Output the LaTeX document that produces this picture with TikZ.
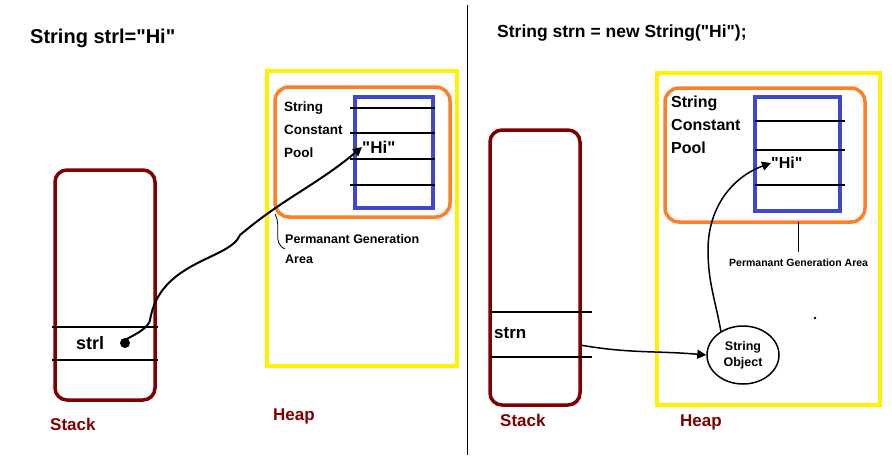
\documentclass[tikz,border=0pt]{standalone}
\usepackage{fontspec}
\setmainfont{Liberation Sans}
\usetikzlibrary{arrows.meta,shapes.geometric}
\definecolor{stackred}{RGB}{128,0,0}
\definecolor{heapyellow}{RGB}{255,242,0}
\definecolor{poolorange}{RGB}{255,127,39}
\definecolor{slotblue}{RGB}{63,72,204}
\newcommand{\q}{\textquotedbl}
\tikzset{
  stackbox/.style={draw=stackred,line width=3.5pt,rounded corners=12pt},
  heapbox/.style={draw=heapyellow,line width=4pt},
  poolbox/.style={draw=poolorange,line width=3.5pt,rounded corners=14pt},
  slotbox/.style={draw=slotblue,line width=3.5pt},
  slot/.style={line width=2pt},
  ref/.style={line width=2pt,-{Triangle[length=9pt,width=9pt]}},
  lbl/.style={font=\bfseries,anchor=west,inner sep=0pt},
  redlbl/.style={lbl,text=stackred},
}
\begin{document}
\begin{tikzpicture}[x=1pt,y=-1pt]
\useasboundingbox (0,0) rectangle (892,463);
\draw[line width=1pt] (467,5) -- (467,455);
% left: literal
\node[lbl,font=\bfseries\fontsize{20}{24}\selectfont] (t1) at (30,38) {String strl=\q Hi\q};
\draw[stackbox] (55,170) rectangle (155,400);
\draw[slot] (52,327) -- (158,327);
\draw[slot] (52,360) -- (158,360);
\node[lbl,font=\bfseries\fontsize{18}{20}\selectfont] (strl) at (76,343) {strl};
\coordinate (strlref) at (125,343);
\fill (strlref) circle (5pt);
\node[redlbl,font=\bfseries\fontsize{17}{20}\selectfont] (stk1) at (50,424) {Stack};
\draw[heapbox] (267,71) rectangle (457,366);
\draw[poolbox] (275,87) rectangle (450,217);
\draw[slotbox] (355,97) rectangle (433,208);
\foreach \y in {108,133,159,185} \draw[slot] (350,\y) -- (435,\y);
\node[lbl,font=\bfseries\fontsize{13.5}{23}\selectfont,align=left,anchor=north west] (pool1) at (284,102) {String\\Constant\\Pool};
\node[lbl,font=\bfseries\fontsize{17}{20}\selectfont] (hi1) at (362,147) {\q Hi\q};
\node[lbl,font=\bfseries\fontsize{12.5}{20}\selectfont,align=left,anchor=north west] (perm1) at (285,234) {Permanant Generation\\Area};
\draw[line width=0.8pt] (275,214) to[out=-60,in=160] (perm1.west);
\node[redlbl,font=\bfseries\fontsize{17}{20}\selectfont] (heap1) at (273,416) {Heap};
\draw[ref] (strlref) to[out=180,in=-100] (150,320) .. controls (160,260) and (230,260) .. (240,235) to[out=40,in=-140] (hi1.west);
% right: new object
\node[lbl,font=\bfseries\fontsize{17.5}{20}\selectfont] (t2) at (497,33) {String strn = new String(\q Hi\q);};
\draw[stackbox] (490,130) rectangle (580,405);
\draw[slot,line width=1.5pt] (490,312) -- (592,312);
\draw[slot,line width=1.5pt] (490,357) -- (592,357);
\node[lbl,font=\bfseries\fontsize{17}{20}\selectfont] (strn) at (494,333) {strn};
\coordinate (strnref) at (580,345);
\node[redlbl,font=\bfseries\fontsize{17}{20}\selectfont] (stk2) at (500,420) {Stack};
\draw[heapbox] (657,73) rectangle (880,405);
\draw[poolbox] (665,88) rectangle (865,222);
\draw[slotbox] (755,97) rectangle (840,211);
\foreach \y in {121,150,185} \draw[line width=1.2pt] (755,\y) -- (845,\y);
\node[lbl,font=\bfseries\fontsize{16}{23}\selectfont,align=left,anchor=north west] (pool2) at (671,96) {String\\Constant\\Pool};
\node[lbl,font=\bfseries\fontsize{16}{18}\selectfont] (hi2) at (771,163) {\q Hi\q};
\node[lbl,font=\bfseries\fontsize{10.5}{12}\selectfont] (perm2) at (729,263) {Permanant Generation Area};
\draw[line width=0.8pt] (798,222) -- (798,252);
\node[draw,ellipse,line width=1.5pt,minimum width=72pt,minimum height=58pt,inner sep=0pt,align=center,font=\bfseries\fontsize{12.5}{16}\selectfont] (obj) at (743,355) {String\\Object};
\fill (815,318) circle (1.3pt);
\node[redlbl,font=\bfseries\fontsize{17}{20}\selectfont] (heap2) at (680,422) {Heap};
\draw[ref,line width=1.5pt] (strnref) to[out=-10,in=175] (obj.west);
\draw[ref,line width=1.5pt] (obj.north west) ++(4,-2) to[out=100,in=-90] (708,250) to[out=90,in=-160] (hi2.west);
\end{tikzpicture}
\end{document}
